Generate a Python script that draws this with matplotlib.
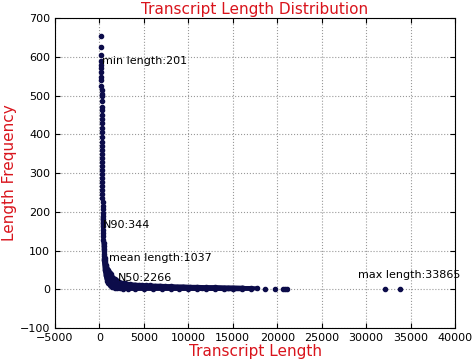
import matplotlib
matplotlib.use("Agg")
import matplotlib.pyplot as plt

# transcript lengths and how often each one occurs
col_len = [201, 204, 207, 212, 215, 218, 222, 225, 228, 232, 235, 238, 241, 244, 248,
           251, 255, 258, 262, 266, 270, 274, 278, 282, 286, 290, 294, 298, 302, 306,
           310, 315, 320, 325, 330, 336, 342, 348, 354, 360, 367, 374]
col_freq = [655, 625, 605, 590, 578, 570, 560, 548, 540, 525, 515, 505, 498, 485, 470,
            462, 450, 440, 428, 415, 405, 392, 380, 370, 360, 348, 338, 328, 318, 308,
            298, 288, 276, 266, 255, 245, 236, 226, 216, 207, 198, 190]

up_len = [382, 390, 400, 410, 420, 432, 445, 460, 475, 490, 510, 530, 550, 575, 600,
          630, 660, 700, 740, 780, 830, 880, 940, 1000, 1080, 1160, 1250, 1350, 1460,
          1580, 1700, 1850, 2000, 2200, 2400, 2600, 2850, 3100, 3400, 3700, 4000, 4400,
          4800, 5200, 5700, 6200, 6800, 7400, 8000, 8700, 9400, 10200, 11000, 12000,
          13000, 14000, 15000, 16000, 17000, 17700]
up_freq = [182, 172, 162, 153, 145, 137, 128, 120, 112, 105, 98, 92, 86, 80, 75,
           70, 66, 62, 59, 56, 53, 51, 49, 47, 45, 42, 39, 35, 31,
           28, 26, 24, 22, 19, 17, 16, 15, 14, 13, 12, 12, 11,
           11, 10, 10, 9, 9, 8, 8, 7, 7, 6, 6, 5,
           5, 4, 4, 3, 3, 2]

mid_len = [900, 1100, 1300, 1500, 1800, 2100, 2500, 3000, 3600, 4300, 5000, 6000,
           7000, 8000, 9000, 10000, 11500, 13000, 14500, 16000]
mid_freq = [30, 22, 17, 14, 11, 9, 8, 7, 6, 6, 5, 5,
            5, 4, 4, 4, 3, 3, 2, 2]

low_len = [500, 600, 700, 800, 900, 1000, 1150, 1300, 1450, 1600, 1800, 2000, 2300,
           2700, 3200, 4000, 5000, 6000, 7000, 8000, 9000, 10000, 11000, 12000, 13000,
           14000, 15000, 16000, 17000]
low_freq = [75, 50, 36, 27, 20, 15, 11, 8, 6, 5, 4, 3, 2,
            1, 1, 1, 1, 1, 1, 1, 1, 1, 1, 1, 1,
            1, 1, 1, 1]

far_len = [18630, 19760, 20650, 20900, 21100, 32130, 33865]
far_freq = [1, 1, 1, 1, 1, 1, 1]

notes = ["min length:201", "N90:344", "mean length:1037", "N50:2266", "max length:33865"]
note_x = [240, 344, 1037, 2100, 34800]
note_y = [590, 165, 80, 30, 37]

dot = "#0c0c4a"
red = "#d9141c"

fig = plt.figure(figsize=(4.74, 3.62), dpi=100)
ax = fig.add_axes([0.116, 0.094, 0.844, 0.856])

ax.plot(col_len, col_freq, "o", color=dot, ms=3, mec=dot)
ax.plot(up_len, up_freq, "o-", color=dot, ms=3, lw=3)
ax.plot(mid_len, mid_freq, "o-", color=dot, ms=3, lw=4)
ax.plot(low_len, low_freq, "o-", color=dot, ms=3, lw=3)
ax.plot(far_len, far_freq, "o", color=dot, ms=3)

for i in range(len(notes)):
    ha = "center" if i == 4 else "left"
    ax.text(note_x[i], note_y[i], notes[i], fontsize=8, ha=ha, va="center")

ax.set_xlim(-5000, 40000)
ax.set_ylim(-100, 700)
ax.set_xticks(range(-5000, 40001, 5000))
ax.set_yticks(range(-100, 701, 100))
ax.tick_params(direction="in", labelsize=8, top=True, right=True)
ax.grid(True, linestyle=":", color="#999999", lw=0.8)

ax.set_title("Transcript Length Distribution", color=red, fontsize=11, pad=3)
ax.set_xlabel("Transcript Length", color=red, fontsize=11, labelpad=1)
ax.set_ylabel("Length Frequency", color=red, fontsize=11, labelpad=2)

fig.savefig("out.png")
